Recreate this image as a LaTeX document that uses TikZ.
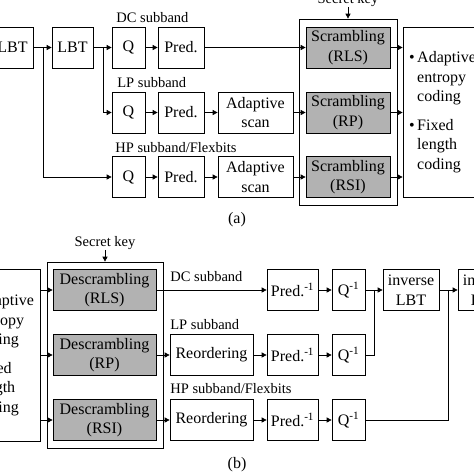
\documentclass[tikz,border=0pt]{standalone}
\usepackage{fontspec}
\setmainfont{Liberation Serif}
\usetikzlibrary{arrows.meta}

\newcommand{\codingtext}{%
\begin{tabular}{@{}l@{\hspace{2.5pt}}l@{}}
\textbullet & Adaptive\\ & entropy\\ & coding\\[9pt]
\textbullet & Fixed\\ & length\\ & coding
\end{tabular}}

\tikzset{
	blk/.style={draw, minimum height=41pt, inner sep=0pt, align=center, font=\fontsize{16}{19.5}\selectfont},
	scr/.style={blk, fill=black!30},
	lbl/.style={inner sep=0pt, font=\fontsize{14.5}{17}\selectfont},
	arr/.style={-{Triangle[length=5pt,width=5pt]}},
}

\begin{document}
\begin{tikzpicture}[x=1pt, y=-1pt, line width=0.7pt]
\useasboundingbox (0,0) rectangle (474,474);
\clip (0,0) rectangle (474,474);

% (a) scrambling
\node[blk, minimum width=41pt] (lbtA) at (12.5,47.5) {LBT};
\node[blk, minimum width=41pt] (lbtB) at (72.5,47.5) {LBT};
\node[draw, minimum width=98pt, minimum height=186pt] (keyboxA) at (348,112) {};
\node[lbl] (keyA) at (348,0) {Secret key};
\draw[arr] (keyA) -- (keyboxA.north);

\foreach \r/\y/\t in {1/47.5/RLS, 2/112.5/RP, 3/177/RSI}
	{
		\node[blk, minimum width=33pt] (qA\r) at (128.5,\y) {Q};
		\node[blk, minimum width=46pt] (pA\r) at (181,\y) {Pred.};
		\node[scr, minimum width=84pt] (sA\r) at (348,\y) {Scrambling\\(\t)};
		\draw[arr] (qA\r) -- (pA\r);
	}
\node[blk, minimum width=75pt] (scA2) at (255.5,112.5) {Adaptive\\scan};
\node[blk, minimum width=75pt] (scA3) at (255.5,177) {Adaptive\\scan};
\node[blk, minimum width=79pt, minimum height=170pt] (codA) at (442.5,112) {\codingtext};

\node[lbl, anchor=west] (dcA) at (116,18) {DC subband};
\node[lbl, anchor=west] (lpA) at (117,83) {LP subband};
\node[lbl, anchor=west] (hpA) at (115,148) {HP subband/Flexbits};

\coordinate (jA1) at (43,47.5);
\coordinate (jA2) at (103,47.5);
\draw[arr] (lbtA) -- (lbtB);
\draw[arr] (jA1) |- (qA3);
\draw[arr] (lbtB) -- (qA1);
\draw[arr] (jA2) |- (qA2);
\draw[arr] (pA1) -- (sA1);
\foreach \r in {2,3}
	{
		\draw[arr] (pA\r) -- (scA\r);
		\draw[arr] (scA\r) -- (sA\r);
	}
\foreach \r in {1,2,3}
	\draw[arr] (sA\r.east) -- (sA\r.east -| codA.west);

\node[lbl, font=\fontsize{16}{19}\selectfont] (capA) at (237,220) {(a)};

% (b) descrambling
\node[draw, minimum width=116pt, minimum height=186pt] (keyboxB) at (105,355) {};
\node[lbl] (keyB) at (105,243) {Secret key};
\draw[arr] (keyB) -- (keyboxB.north);
\node[blk, minimum width=79pt, minimum height=172pt] (codB) at (0.5,355) {\codingtext};

\foreach \r/\y/\t in {1/290/RLS, 2/355/RP, 3/420/RSI}
	{
		\node[scr, minimum width=103pt] (dB\r) at (104.5,\y) {Descrambling\\(\t)};
		\node[blk, minimum width=51pt] (prB\r) at (292.5,\y) {Pred.\textsuperscript{-1}};
		\node[blk, minimum width=33pt] (qB\r) at (348.5,\y) {Q\textsuperscript{-1}};
		\draw[arr] (dB\r.west -| codB.east) -- (dB\r);
		\draw[arr] (prB\r) -- (qB\r);
	}
\node[blk, minimum width=83pt] (reB2) at (211.5,355) {Reordering};
\node[blk, minimum width=83pt] (reB3) at (211.5,420) {Reordering};
\node[blk, minimum width=56pt] (ilbtB1) at (411,290) {inverse\\LBT};
\node[blk, minimum width=56pt] (ilbtB2) at (486,290) {inverse\\LBT};

\node[lbl, anchor=west] (dcB) at (170,277) {DC subband};
\node[lbl, anchor=west] (lpB) at (170,325) {LP subband};
\node[lbl, anchor=west] (hpB) at (170,389) {HP subband/Flexbits};

\coordinate (jB1) at (374,290);
\coordinate (jB2) at (448,290);
\draw[arr] (dB1) -- (prB1);
\foreach \r in {2,3}
	{
		\draw[arr] (dB\r) -- (reB\r);
		\draw[arr] (reB\r) -- (prB\r);
	}
\draw[arr] (qB1) -- (ilbtB1);
\draw (qB2.east) -| (jB1);
\draw[arr] (ilbtB1) -- (ilbtB2);
\draw (qB3.east) -| (jB2);

\node[lbl, font=\fontsize{16}{19}\selectfont] (capB) at (237,465) {(b)};

\end{tikzpicture}
\end{document}
